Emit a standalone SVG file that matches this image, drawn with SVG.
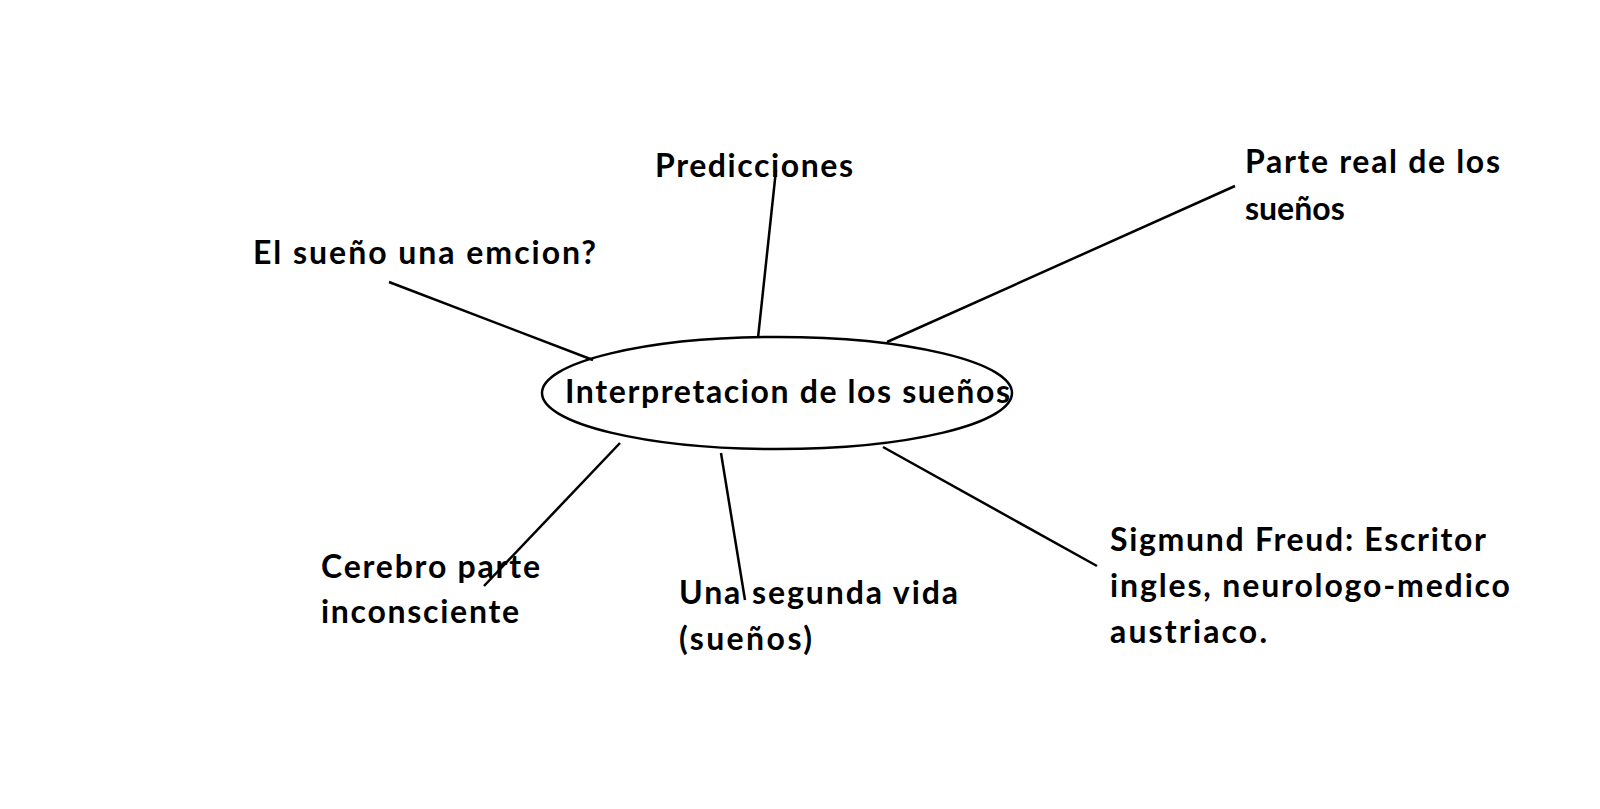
<svg xmlns="http://www.w3.org/2000/svg" width="1600" height="809" viewBox="0 0 1600 809">
<style>
text{font-family:Lato,"Open Sans","Liberation Sans",sans-serif;font-weight:bold;font-size:32px;fill:#000}
line,ellipse{stroke:#000;stroke-width:2.5;fill:none}
</style>
<rect width="1600" height="809" fill="#fff"/>
<g id="connectors">
<line x1="776" y1="170" x2="758" y2="338"/>
<line x1="1235" y1="186" x2="887" y2="342"/>
<line x1="389" y1="282" x2="593" y2="360"/>
<line x1="620" y1="443" x2="484" y2="586"/>
<line x1="721" y1="453" x2="745" y2="600"/>
<line x1="883" y1="447" x2="1097" y2="566"/>
</g>
<g id="center"><ellipse cx="777" cy="393" rx="235" ry="56"/><text x="565" y="403" textLength="445">Interpretacion de los sueños</text></g>
<g id="predicciones"><text x="655" y="177" textLength="198">Predicciones</text></g>
<g id="parte-real"><text x="1245" y="173" textLength="255">Parte real de los</text><text x="1245" y="220">sueños</text></g>
<g id="emocion"><text x="253" y="264" textLength="343">El sueño una emcion?</text></g>
<g id="cerebro"><text x="321" y="578" textLength="219">Cerebro parte</text><text x="321" y="623" textLength="198">inconsciente</text></g>
<g id="segunda-vida"><text x="679" y="604" textLength="279">Una segunda vida</text><text x="679" y="650" textLength="133">(sueños)</text></g>
<g id="freud"><text x="1110" y="551" textLength="376">Sigmund Freud: Escritor</text><text x="1110" y="597" textLength="400">ingles, neurologo-medico</text><text x="1110" y="643" textLength="157">austriaco.</text></g>
</svg>
